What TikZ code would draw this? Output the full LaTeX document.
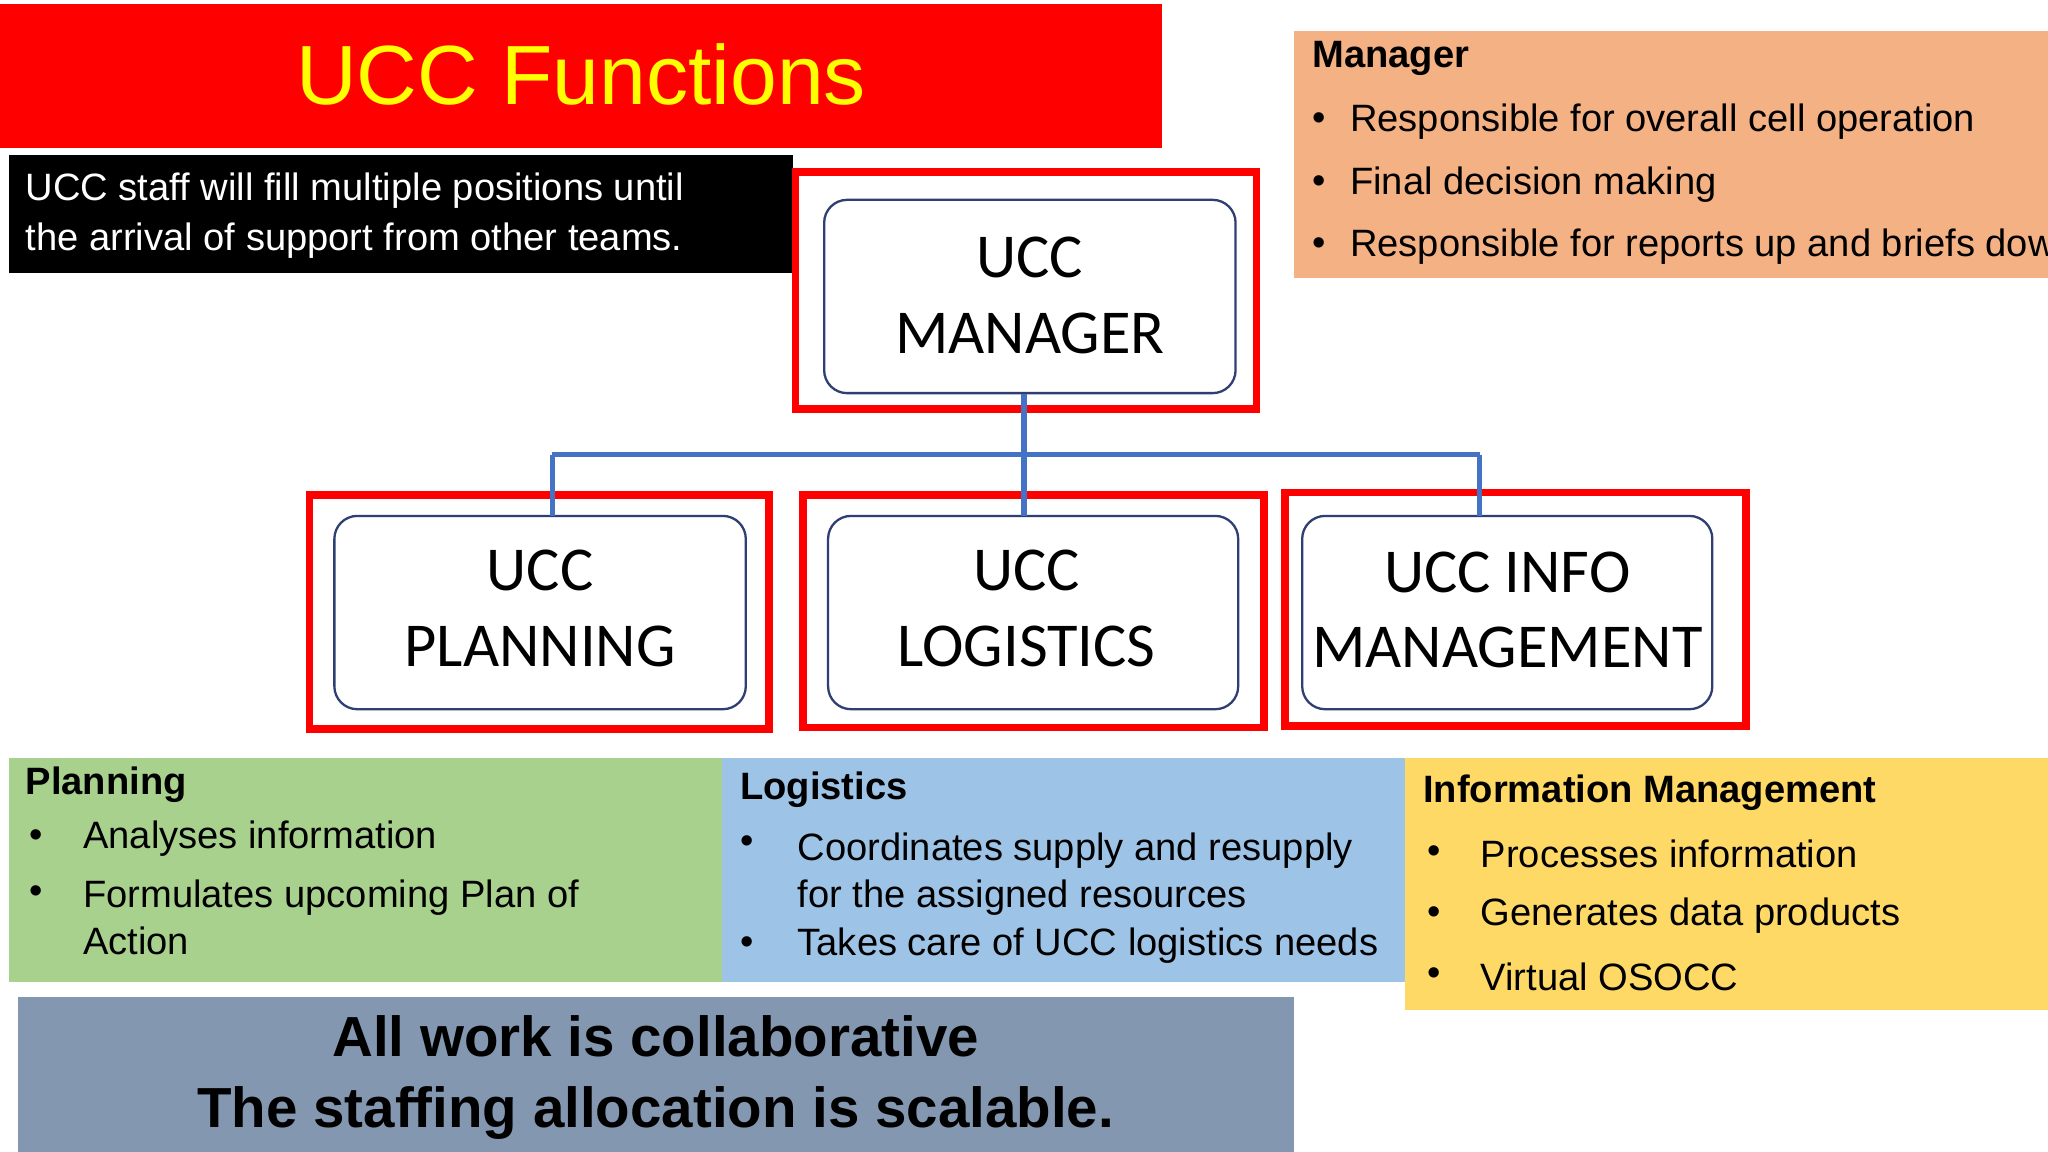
\documentclass[tikz,border=0pt]{standalone}
\usepackage{fontspec}
\setmainfont{Liberation Sans}
\newfontfamily\carlitofont{Carlito}
\definecolor{ttl}{HTML}{FF0000}
\definecolor{ylw}{HTML}{FFFF00}
\definecolor{org}{HTML}{F4B183}
\definecolor{grn}{HTML}{A9D18E}
\definecolor{blu}{HTML}{9DC3E6}
\definecolor{yel}{HTML}{FFD966}
\definecolor{gry}{HTML}{8497B0}
\definecolor{lnk}{HTML}{4472C4}
\definecolor{bdr}{HTML}{2F3F73}
\tikzset{
 redbox/.style={draw=ttl,line width=1.7pt},
 unit/.style={draw=bdr,line width=0.5pt,fill=white,rounded corners=5pt},
 utxt/.style={font=\carlitofont\fontsize{13.6}{15.5}\selectfont,align=center},
 txt/.style={anchor=west,inner sep=0pt,font=\fontsize{8.3}{10.2}\selectfont},
 btxt/.style={txt,font=\bfseries\fontsize{8.3}{10.2}\selectfont},
 link/.style={draw=lnk,line width=1.1pt},
}
\begin{document}
\begin{tikzpicture}[x=0.01cm,y=-0.01cm]
\useasboundingbox (0,0) rectangle (1568,882);
\fill[white] (0,0) rectangle (1568,882);
% title
\fill[ttl] (0,3) rectangle (890,113);
\node[text=ylw,font=\fontsize{18.3}{22}\selectfont] (title) at (445,57) {UCC Functions};
% black note
\fill[black] (7,119) rectangle (607,209);
\node[txt,text=white,align=left,font=\fontsize{8.3}{10.8}\selectfont] (note) at (19,165) {UCC staff will fill multiple positions until\\the arrival of support from other teams.};
% manager description
\begin{scope}
\clip (0,0) rectangle (1568,882);
\fill[org] (991,24) rectangle (1600,213);
\node[btxt] (mt) at (1004,45) {Manager};
\foreach \y/\t in {93/Responsible for overall cell operation,141/Final decision making,189/Responsible for reports up and briefs down}
 {\node[txt] at (1004,\y) {•}; \node[txt] at (1033,\y) {\t};}
\end{scope}
% org boxes
\draw[redbox] (609,132) rectangle (962,313);
\draw[unit] (631,153) rectangle (946,301);
\node[utxt] (mgr) at (788.5,226) {UCC\\[1pt]MANAGER};
\draw[redbox] (237,379) rectangle (589,558);
\draw[unit] (256,395) rectangle (571,543);
\node[utxt] (pln) at (413.5,466) {UCC\\[1pt]PLANNING};
\draw[redbox] (615,379) rectangle (968,557);
\draw[unit] (634,395) rectangle (948,543);
\node[utxt] (log) at (786,466) {UCC\\[1pt]LOGISTICS};
\draw[redbox] (984,377) rectangle (1337,556);
\draw[unit] (997,395) rectangle (1311,543);
\node[utxt] (inf) at (1154,467) {UCC INFO\\[1pt]MANAGEMENT};
% connectors
\coordinate (m0) at (784,302);
\coordinate (j) at (784,348);
\coordinate (jl) at (423,348);
\coordinate (jr) at (1133,348);
\coordinate (p0) at (423,395);
\coordinate (l0) at (784,395);
\coordinate (i0) at (1133,395);
\draw[link] (m0) -- (j) -- (l0);
\draw[link] (jl) -- (jr);
\draw[link] (jl) -- (p0);
\draw[link] (jr) -- (i0);
% descriptions
\fill[grn] (7,580) rectangle (553,752);
\node[btxt] (pt) at (19,601) {Planning};
\node[txt] at (22,642) {•}; \node[txt] at (63,642) {Analyses information};
\node[txt] at (22,685) {•}; \node[txt,align=left,anchor=north west] at (63,673) {Formulates upcoming Plan of\\Action};
\fill[blu] (553,580) rectangle (1076,752);
\node[btxt] (lt) at (566,605) {Logistics};
\begin{scope}[every node/.append style={font=\fontsize{7.6}{9.8}\selectfont}]
\node[txt] at (566,647) {•}; \node[txt,align=left,anchor=north west] at (610,637) {Coordinates supply and resupply\\for the assigned resources};
\node[txt] at (566,724) {•}; \node[txt] at (610,724) {Takes care of UCC logistics needs};
\end{scope}
\fill[yel] (1076,580) rectangle (1568,773);
\node[btxt] (it) at (1089,607) {Information Management};
\foreach \y/\t in {654/Processes information,701/Generates data products,748/Virtual OSOCC}
 {\node[txt] at (1092,\y) {•}; \node[txt] at (1133,\y) {\t};}
% bottom
\fill[gry] (14,763) rectangle (991,882);
\node[font=\bfseries\fontsize{12.3}{15.5}\selectfont,align=center] (bot) at (502,825) {All work is collaborative\\The staffing allocation is scalable.};
\end{tikzpicture}
\end{document}
